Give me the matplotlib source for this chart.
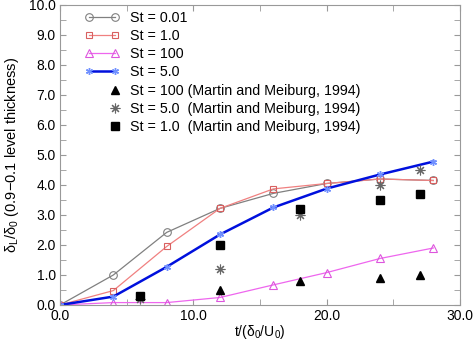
import numpy as np
import matplotlib
matplotlib.use('Agg')
import matplotlib.pyplot as plt
from matplotlib.legend_handler import HandlerLine2D
from matplotlib.ticker import MultipleLocator

plt.rcParams['font.family'] = ['Liberation Sans', 'DejaVu Sans']
plt.rcParams['mathtext.fontset'] = 'custom'
plt.rcParams['mathtext.rm'] = 'Liberation Sans'
plt.rcParams['mathtext.it'] = 'Liberation Sans'

# simulation data
t_sim = [0, 4, 8, 12, 16, 20, 24, 28]
st001 = [0.0, 1.0, 2.42, 3.22, 3.72, 4.05, 4.2, 4.15]
st1 = [0.0, 0.48, 1.95, 3.22, 3.87, 4.05, 4.2, 4.15]
st100 = [0.0, 0.08, 0.08, 0.25, 0.67, 1.08, 1.55, 1.9]
st5 = [0.0, 0.28, 1.27, 2.35, 3.25, 3.88, 4.35, 4.78]

# Martin and Meiburg (1994)
t_mm100 = [12, 18, 24, 27]
mm100 = [0.5, 0.8, 0.9, 1.0]
t_mm5 = [6, 12, 18, 24, 27]
mm5 = [0.2, 1.2, 3.0, 4.0, 4.5]
t_mm1 = [6, 12, 18, 24, 27]
mm1 = [0.3, 2.0, 3.2, 3.5, 3.7]


class RightMarker(HandlerLine2D):
    # single marker drawn near the right end of the handle
    def get_xdata(self, legend, xdescent, ydescent, width, height, fontsize):
        xd = np.array([width - xdescent - 3.0])
        return xd, xd


fig = plt.figure(figsize=(4.74, 3.44), dpi=100)
ax = fig.add_axes([0.1266, 0.1134, 0.8439, 0.8721])

h1, = ax.plot(t_sim, st001, color='#808080', lw=0.9, marker='o', ms=5.5,
              mfc='none', mec='#808080', mew=0.8, label='St = 0.01')
h2, = ax.plot(t_sim, st1, color='#f08080', lw=0.9, marker='s', ms=5,
              mfc='none', mec='#d86060', mew=0.8, label='St = 1.0')
h3, = ax.plot(t_sim, st100, color='#ee66ee', lw=0.9, marker='^', ms=5.5,
              mfc='none', mec='#dd55dd', mew=0.8, label='St = 100')
h4, = ax.plot(t_sim, st5, color='#0010dd', lw=1.8, marker=(6, 2, 0), ms=5,
              mec='#7090ff', mew=1.0, label='St = 5.0')

h5, = ax.plot(t_mm100, mm100, ls='none', marker='^', ms=5.5, color='black',
              label='St = 100 (Martin and Meiburg, 1994)')
h6, = ax.plot(t_mm5, mm5, ls='none', marker=(8, 2, 0), ms=7, color='#666666',
              mew=0.8, label='St = 5.0  (Martin and Meiburg, 1994)')
h7, = ax.plot(t_mm1, mm1, ls='none', marker='s', ms=5.5, color='black',
              label='St = 1.0  (Martin and Meiburg, 1994)')

ax.set_xlim(0, 30)
ax.set_ylim(0, 10)
ax.xaxis.set_major_locator(MultipleLocator(10))
ax.xaxis.set_minor_locator(MultipleLocator(5))
ax.yaxis.set_major_locator(MultipleLocator(1))
ax.yaxis.set_minor_locator(MultipleLocator(0.5))
ax.xaxis.set_major_formatter(lambda v, p: f'{v:.1f}')
ax.yaxis.set_major_formatter(lambda v, p: f'{v:.1f}')

for s in ax.spines.values():
    s.set_color('#999999')
ax.tick_params(which='both', direction='in', top=True, right=True,
               color='#999999', labelsize=10, pad=3)
ax.tick_params(which='major', length=4)
ax.tick_params(which='minor', length=4)

ax.set_xlabel(r'$\mathrm{t/(\delta_0/U_0)}$', fontsize=10, labelpad=0)
ax.set_ylabel(r'$\mathrm{\delta_L/\delta_0}$ (0.9$-$0.1 level thickness)',
              fontsize=10.5, labelpad=6)

ax.legend(handles=[h1, h2, h3, h4, h5, h6, h7], loc='upper left',
          bbox_to_anchor=(0.04, 1.01), frameon=False, fontsize=10.3,
          numpoints=2, handlelength=2.45, handletextpad=0.7,
          labelspacing=0.3, borderaxespad=0.2,
          handler_map={h5: RightMarker(), h6: RightMarker(), h7: RightMarker()})

fig.savefig('out.png', dpi=100)
